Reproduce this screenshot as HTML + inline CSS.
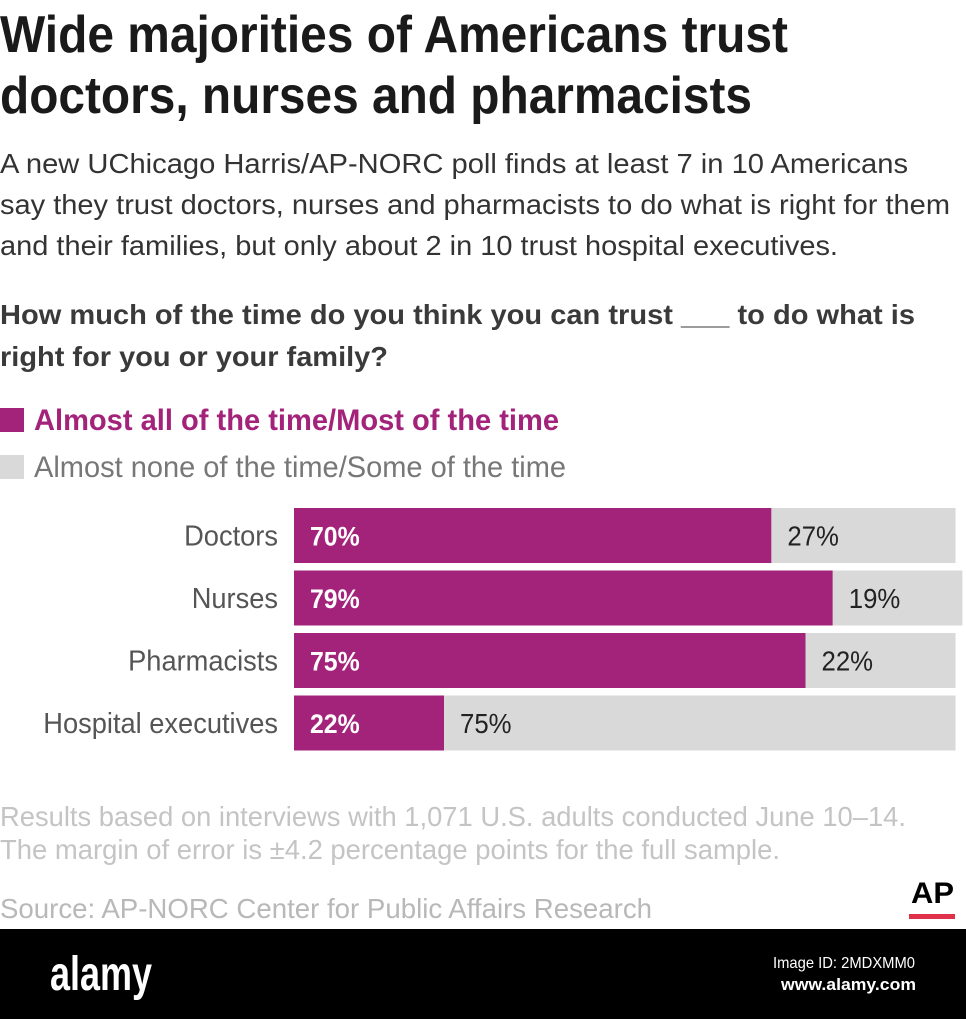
<!DOCTYPE html>
<html><head><meta charset="utf-8"><style>
html,body{margin:0;padding:0;background:#fff}
svg{display:block}
text{font-family:"Liberation Sans",sans-serif}
</style></head><body>
<svg width="966" height="1019" viewBox="0 0 966 1019">
<rect x="0" y="0" width="966" height="1019" fill="#fff"/>
<text x="0" y="52" font-size="52" font-weight="bold" fill="#1a1a1a" textLength="788" lengthAdjust="spacingAndGlyphs">Wide majorities of Americans trust</text>
<text x="0" y="113" font-size="52" font-weight="bold" fill="#1a1a1a" textLength="752" lengthAdjust="spacingAndGlyphs">doctors, nurses and pharmacists</text>
<text x="0" y="173" font-size="28" fill="#333" textLength="908" lengthAdjust="spacingAndGlyphs">A new UChicago Harris/AP-NORC poll finds at least 7 in 10 Americans</text>
<text x="0" y="214" font-size="28" fill="#333" textLength="950" lengthAdjust="spacingAndGlyphs">say they trust doctors, nurses and pharmacists to do what is right for them</text>
<text x="0" y="255" font-size="28" fill="#333" textLength="838" lengthAdjust="spacingAndGlyphs">and their families, but only about 2 in 10 trust hospital executives.</text>
<text x="0" y="324" font-size="28" font-weight="bold" fill="#3a3a3a" textLength="915" lengthAdjust="spacingAndGlyphs">How much of the time do you think you can trust ___ to do what is</text>
<text x="0" y="366" font-size="28" font-weight="bold" fill="#3a3a3a" textLength="388" lengthAdjust="spacingAndGlyphs">right for you or your family?</text>
<rect x="0" y="408" width="24" height="24" fill="#a3237b"/>
<text x="34" y="430" font-size="30" font-weight="bold" fill="#a3237b" textLength="525" lengthAdjust="spacingAndGlyphs">Almost all of the time/Most of the time</text>
<rect x="0" y="455" width="24" height="24" fill="#d9d9d9"/>
<text x="34" y="477" font-size="30" fill="#777" textLength="532" lengthAdjust="spacingAndGlyphs">Almost none of the time/Some of the time</text>
<g id="bars"></g>
<text x="0" y="826" font-size="28" fill="#c4c4c4" textLength="906" lengthAdjust="spacingAndGlyphs">Results based on interviews with 1,071 U.S. adults conducted June 10–14.</text>
<text x="0" y="859" font-size="28" fill="#c4c4c4" textLength="780" lengthAdjust="spacingAndGlyphs">The margin of error is ±4.2 percentage points for the full sample.</text>
<text x="0" y="918" font-size="28" fill="#b8b8b8" textLength="652" lengthAdjust="spacingAndGlyphs">Source: AP-NORC Center for Public Affairs Research</text>
<text x="911" y="903" font-size="30" font-weight="bold" fill="#000" textLength="43" lengthAdjust="spacingAndGlyphs">AP</text>
<rect x="909" y="914" width="46" height="5" fill="#e0314b"/>
<rect x="0" y="929" width="966" height="90" fill="#000"/>
<text x="50" y="990" font-size="48" font-weight="bold" fill="#fff" textLength="102" lengthAdjust="spacingAndGlyphs">alamy</text>
<text x="773" y="968" font-size="16" fill="#fff" textLength="142" lengthAdjust="spacingAndGlyphs">Image ID: 2MDXMM0</text>
<text x="781" y="990" font-size="17" font-weight="bold" fill="#fff" textLength="135" lengthAdjust="spacingAndGlyphs">www.alamy.com</text>
</svg>
<script>
const categories = ["Doctors","Nurses","Pharmacists","Hospital executives"];
const trustValues = [70,79,75,22];
const distrustValues = [27,19,22,75];
const NS="http://www.w3.org/2000/svg";
const g=document.getElementById('bars');
const x0=294, pxPer=6.82, y0=508, pitch=62.5, bh=55;
function xs(v){return v*pxPer;}
function mk(tag,attrs){const e=document.createElementNS(NS,tag);for(const k in attrs)e.setAttribute(k,attrs[k]);g.appendChild(e);return e;}
categories.forEach((c,i)=>{
  const y=y0+i*pitch;
  const w1=xs(trustValues[i]), w2=xs(distrustValues[i]);
  const lab=mk('text',{x:0,y:0,'font-size':29,fill:'#555','text-anchor':'end',transform:'translate(278,'+(y+bh/2+10)+') scale(0.94,1)'});
  
  
  lab.textContent=c;
  const b1=mk('rect',{x:x0,y:y,width:w1,height:bh,fill:'#a3237b'});
  
  
  const b2=mk('rect',{x:x0+w1,y:y,width:w2,height:bh,fill:'#d9d9d9'});
  
  
  const t1=mk('text',{x:0,y:0,'font-size':27,'font-weight':'bold',fill:'#fff',transform:'translate('+(x0+16)+','+(y+bh/2+10)+') scale(0.92,1)'});
  
  
  t1.textContent=trustValues[i]+'%';
  const t2=mk('text',{x:0,y:0,'font-size':28,fill:'#222',transform:'translate('+(x0+w1+16)+','+(y+bh/2+10)+') scale(0.92,1)'});
  
  
  t2.textContent=distrustValues[i]+'%';
});
</script>
</body></html>
